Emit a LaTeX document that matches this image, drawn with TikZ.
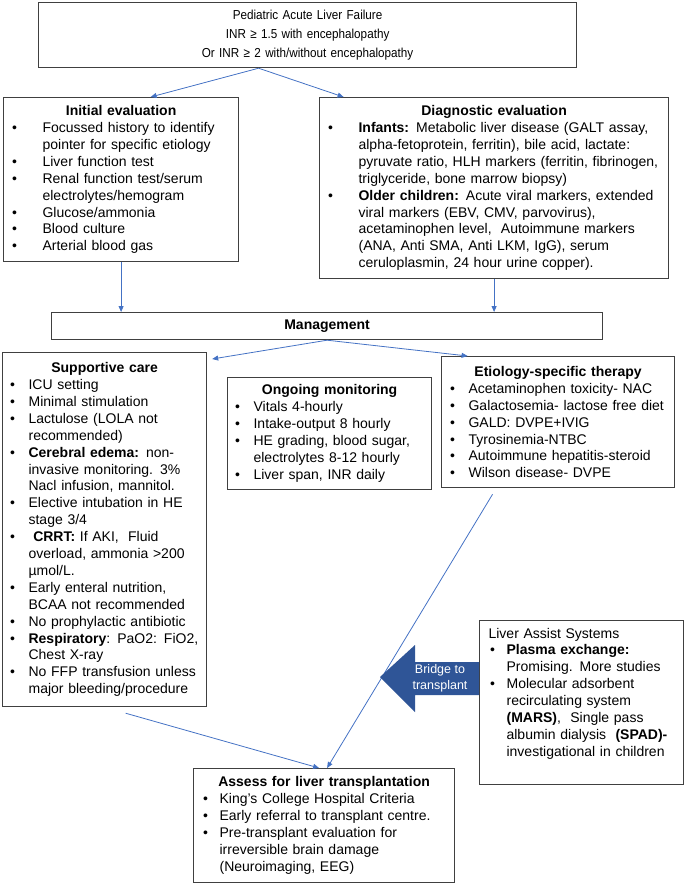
\documentclass[tikz,border=0pt]{standalone}
\usepackage{fontspec}
\setmainfont{Liberation Sans}
\newfontfamily\headfont[FakeStretch=0.9]{Liberation Sans}
\usepackage{tikz}
\usetikzlibrary{arrows.meta}
\definecolor{flowblue}{RGB}{68,114,196}
\definecolor{boxgray}{RGB}{64,64,64}
\definecolor{bridgeblue}{RGB}{47,85,151}
\newlength\bulpre
\newlength\bulind
\newcommand{\bl}[1]{\par\noindent\hangindent=\bulind\hangafter=1\relax
  \hbox to \bulind{\hskip\bulpre\textbullet\hfil}{\let\\\newline#1}\par}
\newcommand{\boxtitle}[1]{{\centering\textbf{#1}\par}}

\begin{document}
\begin{tikzpicture}[x=1pt,y=-1pt,
    box/.style={draw=boxgray,line width=1.2pt,anchor=north west,inner xsep=0pt,inner ysep=2pt,
      align=left,font=\fontsize{14}{16.9}\selectfont},
    bul/.style 2 args={execute at begin node={\setlength\bulpre{#1}\setlength\bulind{#2}}},
    flow/.style={draw=flowblue,line width=0.8pt,-{Triangle[length=6pt,width=5pt]}}]
    \useasboundingbox (0,0) rectangle (685,884);

    \node[box,align=center,text width=538pt,minimum height=65pt,font=\headfont\fontsize{13}{19}\selectfont] (palf) at (38,2)
        {Pediatric Acute Liver Failure\\INR ≥ 1.5 with encephalopathy\\Or INR ≥ 2 with/without encephalopathy};

    \node[box,bul={8.5pt}{39pt},text width=235pt,minimum height=164pt] (init) at (3,97) {\boxtitle{Initial evaluation}
        \bl{Focussed history to identify\\pointer for specific etiology}
        \bl{Liver function test}
        \bl{Renal function test/serum\\electrolytes/hemogram}
        \bl{Glucose/ammonia}
        \bl{Blood culture}
        \bl{Arterial blood gas}};

    \node[box,bul={8.5pt}{39pt},text width=349pt,minimum height=181pt] (diag) at (319,97) {\boxtitle{Diagnostic evaluation}
        \bl{\textbf{Infants:} Metabolic liver disease (GALT assay,\\alpha-fetoprotein, ferritin), bile acid, lactate:\\pyruvate ratio, HLH markers (ferritin, fibrinogen,\\triglyceride, bone marrow biopsy)}
        \bl{\textbf{Older children:} Acute viral markers, extended\\viral markers (EBV, CMV, parvovirus),\\acetaminophen level,\ \ Autoimmune markers\\(ANA, Anti SMA, Anti LKM, IgG), serum\\ceruloplasmin, 24 hour urine copper).}};

    \node[box,align=center,text width=551pt,minimum height=27pt] (mgmt) at (51,312) {\textbf{Management}};

    \node[box,bul={7.5pt}{26pt},text width=204pt,minimum height=354pt] (supp) at (2,352) {\boxtitle{Supportive care}
        \bl{ICU setting}
        \bl{Minimal stimulation}
        \bl{Lactulose (LOLA not\\recommended)}
        \bl{\textbf{Cerebral edema:} non-\\invasive monitoring. 3\%\\Nacl infusion, mannitol.}
        \bl{Elective intubation in HE\\stage 3/4}
        \bl{\ \textbf{CRRT:} If AKI,\ \ Fluid\\overload, ammonia >200\\µmol/L.}
        \bl{Early enteral nutrition,\\BCAA not recommended}
        \bl{No prophylactic antibiotic}
        \bl{\textbf{Respiratory}: PaO2: FiO2,\\Chest X-ray}
        \bl{No FFP transfusion unless\\major bleeding/procedure}};

    \node[box,bul={7.5pt}{26pt},text width=204pt,minimum height=112pt] (mon) at (227,377) {\boxtitle{Ongoing monitoring}
        \bl{Vitals 4-hourly}
        \bl{Intake-output 8 hourly}
        \bl{HE grading, blood sugar,\\electrolytes 8-12 hourly}
        \bl{Liver span, INR daily}};

    \node[box,bul={8.5pt}{27pt},text width=233pt,minimum height=131pt] (etio) at (441,356) {\boxtitle{Etiology-specific therapy}
        \bl{Acetaminophen toxicity- NAC}
        \bl{Galactosemia- lactose free diet}
        \bl{GALD: DVPE+IVIG}
        \bl{Tyrosinemia-NTBC}
        \bl{Autoimmune hepatitis-steroid}
        \bl{Wilson disease- DVPE}};

    \node[box,bul={10.5pt}{27pt},text width=204pt,minimum height=164pt] (assist) at (479,620) {\noindent\hspace*{9pt}Liver Assist Systems\par
        \bl{\textbf{Plasma exchange:}\\Promising. More studies}
        \bl{Molecular adsorbent\\recirculating system\\\textbf{(MARS)},\ \ Single pass\\albumin dialysis\ \ \textbf{(SPAD)-}\\investigational in children}
        \noindent\rule{0pt}{17pt}};

    \node[box,bul={9.5pt}{26pt},text width=261pt,minimum height=114pt] (assess) at (193,768) {\boxtitle{Assess for liver transplantation}
        \bl{King’s College Hospital Criteria}
        \bl{Early referral to transplant centre.}
        \bl{Pre-transplant evaluation for\\irreversible brain damage\\(Neuroimaging, EEG)}};

    \draw[flow] ([xshift=-49pt]palf.south) -- ([xshift=29.5pt]init.north);
    \draw[flow] ([xshift=-49pt]palf.south) -- ([xshift=-150.5pt]diag.north);
    \draw[flow] (init.south) -- (init.south |- mgmt.north);
    \draw[flow] (diag.south) -- (diag.south |- mgmt.north);
    \draw[flow] (mgmt.south) -- ([shift={(5pt,-7pt)}]supp.north east);
    \draw[flow] (mgmt.south) -- ([xshift=-90.5pt]etio.north);
    \draw[flow] ([shift={(21pt,-6pt)}]supp.south) -- ([xshift=-5pt]assess.north);
    \draw[flow] ([shift={(-65.5pt,-6pt)}]etio.south) -- ([xshift=3pt]assess.north);

    \fill[bridgeblue] (380,677) -- (415,645) -- (415,662) -- (479,662) -- (479,695) -- (415,695) -- (415,712) -- cycle;
    \node[text=white,align=center,font=\fontsize{12.5}{16}\selectfont] (bridge) at (440,678) {Bridge to\\transplant};
\end{tikzpicture}
\end{document}
